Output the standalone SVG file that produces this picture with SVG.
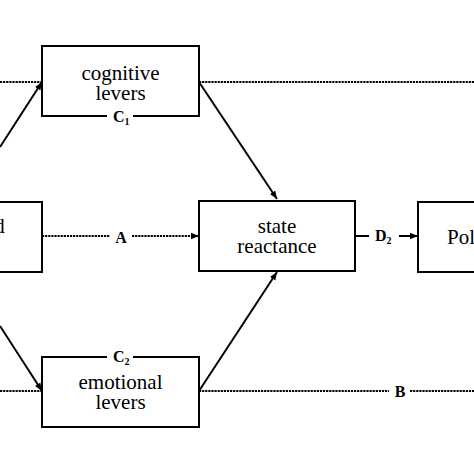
<svg xmlns="http://www.w3.org/2000/svg" width="474" height="474" viewBox="0 0 474 474">
<style>
.box{fill:#fff;stroke:#000;stroke-width:2}
.t{font-family:"Liberation Serif","Times New Roman",serif;font-size:21px;text-anchor:middle;fill:#000}
.lb{font-family:"Liberation Serif","Times New Roman",serif;font-size:16px;font-weight:bold;fill:#000}
.sub{font-size:10px}
.s{stroke:#000;stroke-width:2;fill:none}
.d{stroke:#000;stroke-width:2.2;fill:none;stroke-dasharray:2.2 0.9}
</style>
<defs>
<marker id="ah" viewBox="0 0 10 10" refX="10" refY="5" markerWidth="8" markerHeight="8" markerUnits="userSpaceOnUse" orient="auto">
<path d="M0,1 L10,5 L0,9 Z" fill="#000"/>
</marker>
</defs>
<rect width="474" height="474" fill="#fff"/>
<g id="connectors">
<line class="d" x1="0" y1="82" x2="42" y2="82"/>
<line class="d" x1="199" y1="82" x2="474" y2="82"/>
<line class="d" x1="0" y1="391" x2="42" y2="391"/>
<line class="d" x1="199" y1="391" x2="389" y2="391"/>
<line class="d" x1="410" y1="391" x2="474" y2="391"/>
<line class="s" x1="0" y1="147" x2="42" y2="82" marker-end="url(#ah)"/>
<line class="s" x1="0" y1="326" x2="42" y2="391" marker-end="url(#ah)"/>
<line class="s" x1="199" y1="82" x2="277" y2="199" marker-end="url(#ah)"/>
<line class="s" x1="199" y1="391" x2="277" y2="272" marker-end="url(#ah)"/>
<line class="d" x1="42" y1="236" x2="110" y2="236"/>
<line class="d" x1="132" y1="236" x2="199" y2="236" marker-end="url(#ah)"/>
<line class="s" x1="355" y1="236" x2="369" y2="236"/>
<line class="s" x1="399" y1="236" x2="418" y2="236" marker-end="url(#ah)"/>
<text class="lb" x="121" y="243" text-anchor="middle">A</text>
<text class="lb" x="400" y="397" text-anchor="middle">B</text>
<text class="lb" x="375" y="241">D<tspan class="sub" dy="3">2</tspan></text>
</g>
<g id="node-left">
<rect class="box" x="-115" y="202" width="157" height="70"/>
<text class="t" x="-36" y="233">perceived</text>
<text class="t" x="-36" y="253">threat</text>
</g>
<g id="node-cognitive">
<rect class="box" x="42" y="46" width="157" height="70"/>
<line x1="107" y1="116" x2="133" y2="116" stroke="#fff" stroke-width="4"/>
<text class="t" x="120.5" y="80">cognitive</text>
<text class="t" x="120.5" y="100">levers</text>
<text class="lb" x="113" y="122">C<tspan class="sub" dy="3">1</tspan></text>
</g>
<g id="node-emotional">
<rect class="box" x="42" y="357" width="157" height="70"/>
<line x1="107" y1="357" x2="133" y2="357" stroke="#fff" stroke-width="4"/>
<text class="t" x="120.5" y="389">emotional</text>
<text class="t" x="120.5" y="409">levers</text>
<text class="lb" x="113" y="362">C<tspan class="sub" dy="3">2</tspan></text>
</g>
<g id="node-state">
<rect class="box" x="199" y="201" width="156" height="70"/>
<text class="t" x="277" y="233">state</text>
<text class="t" x="277" y="253">reactance</text>
</g>
<g id="node-policy">
<rect class="box" x="418" y="202" width="157" height="70"/>
<text class="t" x="447" y="244" style="text-anchor:start">Policy support</text>
</g>
</svg>
